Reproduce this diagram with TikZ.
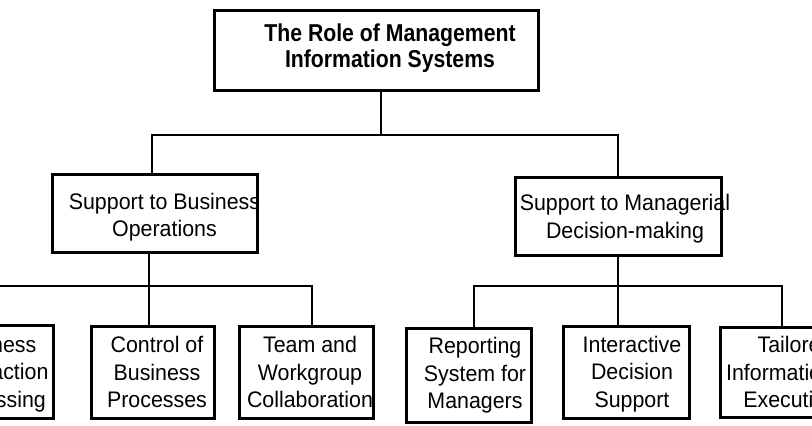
\documentclass[tikz,border=0pt]{standalone}
\usepackage{fontspec}
\setmainfont{Liberation Sans}
\newfontfamily\boxfont[FakeStretch=0.95]{Liberation Sans}
\newfontfamily\titlefont[FakeStretch=0.87]{Liberation Sans}
\begin{document}
\begin{tikzpicture}
  [x=1pt,y=-1pt]
      \tikzstyle{box_style} = [draw=black, line width=3, inner sep=0]
      \tikzstyle{text_style} = [align=center, inner sep=0, font=\boxfont\fontsize{22.5}{27.5}\selectfont]
      \tikzstyle{title_style} = [align=center, inner sep=0, font=\titlefont\bfseries\fontsize{24.4}{26}\selectfont]
      \tikzstyle{edge_style} = [draw=black, line width=2.8]
  \useasboundingbox (0,0) rectangle (812,426);
  \clip (0,0) rectangle (812,426);
  % boxes
  \node[box_style, minimum width=324, minimum height=80] (n0) at (376,50) {};
  \node[box_style, minimum width=205, minimum height=78] (n1) at (154.5,213) {};
  \node[box_style, minimum width=206, minimum height=78] (n2) at (618,216) {};
  \node[box_style, minimum width=130, minimum height=93] (n3) at (-12,372) {};
  \node[box_style, minimum width=123, minimum height=92] (n4) at (152.5,372) {};
  \node[box_style, minimum width=134, minimum height=92] (n5) at (306,372) {};
  \node[box_style, minimum width=125, minimum height=94] (n6) at (468.5,375) {};
  \node[box_style, minimum width=126, minimum height=92] (n7) at (626,372) {};
  \node[box_style, minimum width=140, minimum height=90] (n8) at (790,372) {};
  % texts
  \node[title_style] (t0) at ([shift={(14,-1.5)}]n0.center) {The Role of Management\\Information Systems};
  \node[text_style] (t1) at ([shift={(10,4)}]n1.center) {Support to Business\\Operations};
  \node[text_style] (t2) at ([shift={(7,2.5)}]n2.center) {Support to Managerial\\Decision-making};
  \node[text_style] (t3) at ([shift={(5,2)}]n3.center) {Business\\Transaction\\Processing};
  \node[text_style] (t4) at ([shift={(4.5,0)}]n4.center) {Control of\\Business\\Processes};
  \node[text_style] (t5) at ([shift={(4,0)}]n5.center) {Team and\\Workgroup\\Collaboration};
  \node[text_style] (t6) at ([shift={(6.5,0.5)}]n6.center) {Reporting\\System for\\Managers};
  \node[text_style] (t7) at ([shift={(6,2)}]n7.center) {Interactive\\Decision\\Support};
  \node[text_style] (t8) at ([shift={(5,0)}]n8.center) {Tailored\\Information for\\Executives};
  % connectors
  \coordinate (c0) at (381,135);
  \coordinate (c1) at (149,286);
  \coordinate (c2) at (618,286);
  \draw[edge_style, line width=2] (c0 |- n0.south) -- (c0);
  \draw[edge_style] ([xshift=-2.5]n1.north) |- (c0) -| (n2.north);
  \draw[edge_style] (c1 |- n1.south) -- (c1);
  \draw[edge_style] (n3.north) |- (c1) -| ([xshift=6]n5.north);
  \draw[edge_style] (c1) -- (c1 |- n4.north);
  \draw[edge_style] (n2.south) -- (c2);
  \draw[edge_style] ([xshift=5.5]n6.north) |- (c2) -| ([xshift=-8]n8.north);
  \draw[edge_style] (c2) -- (c2 |- n7.north);
\end{tikzpicture}
\end{document}
